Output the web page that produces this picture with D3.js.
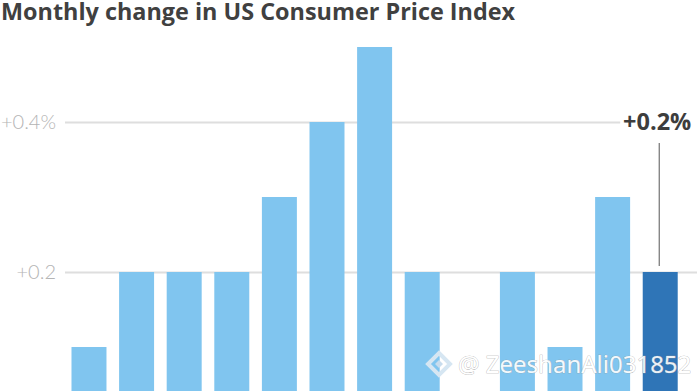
<!DOCTYPE html>
<html><head><meta charset="utf-8">
<script src="https://cdn.jsdelivr.net/npm/d3@7/dist/d3.min.js"></script>
<style>html,body{margin:0;padding:0;background:#fff;overflow:hidden}svg{display:block}</style>
</head><body><svg id="c" width="697" height="391"></svg>
<script>
const categories = ["1","2","3","4","5","6","7","8","9","10","11","12","13"];
const changes = [0.1,0.2,0.2,0.2,0.3,0.4,0.5,0.2,0,0.2,0.1,0.3,0.2];
const tickValues = [0.2,0.4];
const tickLabels = ["+0.2","+0.4%"];
const titleText = "Monthly change in US Consumer Price Index";
const calloutText = "+0.2%";
const watermarkText = "@ ZeeshanAli031852";

const svg = d3.select("#c");
const x = d3.scaleBand().domain(categories).range([65.3,683.9]).paddingInner(0.265).paddingOuter(0.13);
const y = d3.scaleLinear().domain([0,0.5]).range([422,47]);
const bottom = y(0);
const FONT = "Lato, 'Open Sans', sans-serif";
const HEAD = "'Open Sans', Lato, sans-serif";

// grid
const axis = d3.axisLeft(y).tickValues(tickValues).tickSize(-632).tickPadding(9)
  .tickFormat((d,i)=>tickLabels[i]);
const g = svg.append("g").attr("transform","translate(65,0)").call(axis);
g.select(".domain").remove();
g.selectAll(".tick line").attr("stroke","#dedede").attr("stroke-width",2);
g.selectAll(".tick text").attr("fill","#b4b4b4").attr("font-family",FONT).attr("font-size",20).attr("font-weight",300);

// bars
const last = categories.length-1;
svg.append("g").selectAll("rect").data(changes).join("rect")
  .attr("x",(d,i)=>x(categories[i]))
  .attr("width",x.bandwidth())
  .attr("y",d=>y(d))
  .attr("height",d=>bottom-y(d))
  .attr("fill",(d,i)=>i===last?"#2f75b7":"#80c5ef");

// title
svg.append("text").attr("x",1).attr("y",20).attr("fill","#404040")
  .attr("font-family",HEAD).attr("font-weight",700).attr("font-size",23.4).text(titleText);

// callout
const cx = x(categories[last])+x.bandwidth()/2;
svg.append("rect").attr("x",cx-40).attr("y",y(0.4)-10).attr("width",77).attr("height",20).attr("fill","#fff");
svg.append("text").attr("x",cx-3).attr("y",y(0.4)+8).attr("text-anchor","middle").attr("fill","#3d3d3d")
  .attr("font-family",HEAD).attr("font-weight",700).attr("font-size",23.5).text(calloutText);
svg.append("line").attr("x1",cx-1).attr("x2",cx-1).attr("y1",143).attr("y2",y(0.2)-6)
  .attr("stroke","#555").attr("stroke-width",1);

// watermark
const wm = svg.append("g");
wm.append("text").attr("x",458).attr("y",373).attr("fill","#fff").attr("stroke","#9a9a9a").attr("stroke-width",0.6)
  .attr("paint-order","stroke").attr("font-family","'Noto Sans', sans-serif").attr("font-size",24).attr("opacity",0.9).text(watermarkText);
const icon = wm.append("g").attr("transform","translate(439,364)").attr("fill","none");
icon.append("path").attr("d","M0,-11 L11,0 L0,11 L-11,0 Z").attr("stroke","#d6e6f2").attr("stroke-width",4);
icon.append("path").attr("d","M0,-4 L4,0 L0,4 L-4,0 Z").attr("fill","#c8dced").attr("stroke","none");
</script></body></html>
